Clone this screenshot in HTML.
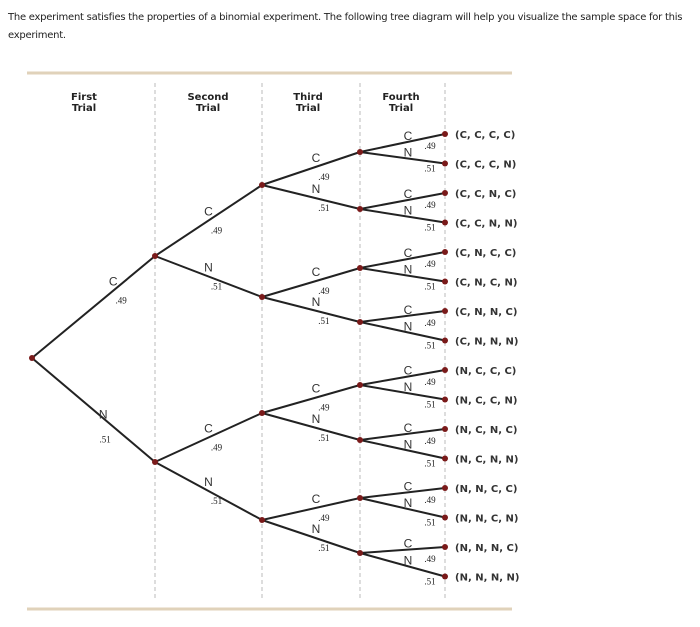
<!DOCTYPE html>
<html><head><meta charset="utf-8"><style>
body{margin:0;background:#fff;width:700px;height:627px;overflow:hidden;font-family:"DejaVu Sans",Verdana,sans-serif}
.intro{position:absolute;left:8px;top:9px;font-size:10px;line-height:18px;color:#222;width:692px;letter-spacing:-0.25px;white-space:nowrap}
svg{position:absolute;left:0;top:0}
</style></head><body>
<div class="intro">The experiment satisfies the properties of a binomial experiment. The following tree diagram will help you visualize the sample space for this<br>experiment.</div>
<svg id="tree" width="700" height="627"></svg>
<script>
const headers=[["First","Trial"],["Second","Trial"],["Third","Trial"],["Fourth","Trial"]];
const probC=".49", probN=".51";
const outcomes=["C","N"];
const headerX=[84,208,308,401];
const levelX=[32,155,262,360,445];
const nodeY=[[358],[256,462],[185,297,413,520],[152,209,268,322,385,440,498,553]];
const leafY0=134, leafStep=29.5;
const tPos=[0.66,0.5,0.55,0.55];
const ns="http://www.w3.org/2000/svg";
const svg=document.getElementById('tree');
function mk(t,a,txt){const e=document.createElementNS(ns,t);for(const k in a)e.setAttribute(k,a[k]);if(txt!=null)e.textContent=txt;svg.appendChild(e);return e;}
let e;
e=mk('line',{x1:27,y1:73,x2:512,y2:73,stroke:'#e0d2ba','stroke-width':3});

e=mk('line',{x1:27,y1:609,x2:512,y2:609,stroke:'#e0d2ba','stroke-width':3});

for(let i=1;i<5;i++){e=mk('line',{x1:levelX[i],y1:83,x2:levelX[i],y2:600,stroke:'#bbb','stroke-width':1,'stroke-dasharray':'4,3'});
}
headers.forEach((h,i)=>{e=mk('text',{x:headerX[i],y:100,'text-anchor':'middle','font-size':10,'font-weight':'bold',fill:'#222'});

const a=document.createElementNS(ns,'tspan');a.setAttribute('x',headerX[i]);a.textContent=h[0];e.appendChild(a);
const b=document.createElementNS(ns,'tspan');b.setAttribute('x',headerX[i]);b.setAttribute('dy',11);b.textContent=h[1];e.appendChild(b);});
const leaves=[];for(let i=0;i<16;i++)leaves.push(leafY0+i*leafStep);
const levels=nodeY.concat([leaves]);
for(let l=0;l<4;l++){levels[l].forEach((y,i)=>{[0,1].forEach(k=>{
 const x1=levelX[l],x2=levelX[l+1],y2=levels[l+1][2*i+k];
 e=mk('line',{x1:x1,y1:y,x2:x2,y2:y2,stroke:'#222','stroke-width':2});
 
 const t=tPos[l];const mx=x1+(x2-x1)*t,my=y+(y2-y)*t;
 const lab=outcomes[k],pr=k?probN:probC;
 let lx=mx,ly=my-5,px=mx+8,py=my+13;
 if(l===0&&k===1){lx=mx-10;ly=my-8;px=mx-8;py=my+16;}
 if(l===3){lx=408;const ty=(408-x1)/(x2-x1);ly=y+(y2-y)*ty-2;px=430;py=k?y2+8:y2+15;}
 e=mk('text',{x:lx,y:ly,'text-anchor':'middle','font-size':12,fill:'#333','font-family':'Liberation Sans,sans-serif'},lab);
 
 e=mk('text',{x:px,y:py,'text-anchor':'middle','font-size':9,fill:'#222','font-family':'Liberation Serif,serif'},pr);
 
});});}
for(let l=0;l<5;l++)levels[l].forEach(y=>{e=mk('circle',{cx:levelX[l],cy:y,r:3,fill:'#7a1a1a'});
 });
leaves.forEach((y,i)=>{const s=[];for(let b=3;b>=0;b--)s.push(outcomes[(i>>b)&1]);
 e=mk('text',{x:455,y:y+4,'font-size':10,'font-weight':'bold',fill:'#333'},'('+s.join(', ')+')');
 });
</script>
</body></html>
